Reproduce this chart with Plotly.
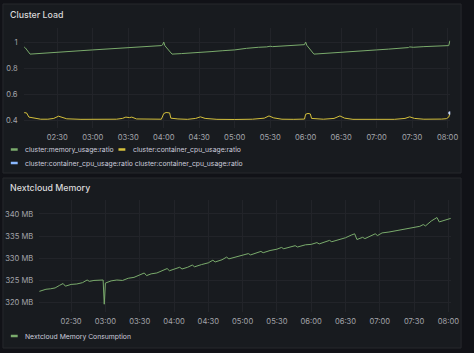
import plotly.graph_objects as go

DAY = "2024-01-01 "

# ---- Cluster Load data ----
mem_times = ["02:02", "02:03", "02:07", "02:15", "02:22", "02:30", "02:40", "02:50", "03:00",
             "03:10", "03:20", "03:30", "03:40", "03:50", "03:58", "03:59", "04:00", "04:01",
             "04:07", "04:15", "04:22", "04:30", "04:40", "04:50", "05:00", "05:10", "05:15",
             "05:20", "05:27", "05:30", "05:32", "05:40", "05:50", "05:59", "06:00", "06:01",
             "06:07", "06:15", "06:22", "06:30", "06:40", "06:50", "07:00", "07:10", "07:20",
             "07:27", "07:28", "07:31", "07:40", "07:50", "08:01", "08:02"]
mem_vals = [0.962, 0.955, 0.908, 0.912, 0.915, 0.922, 0.928, 0.934, 0.940,
            0.945, 0.951, 0.957, 0.962, 0.968, 0.973, 0.978, 1.000, 0.972,
            0.908, 0.912, 0.915, 0.920, 0.927, 0.934, 0.940, 0.952, 0.958,
            0.960, 0.963, 0.968, 0.965, 0.970, 0.975, 0.980, 1.000, 0.975,
            0.908, 0.912, 0.916, 0.925, 0.930, 0.935, 0.940, 0.946, 0.952,
            0.958, 0.963, 0.960, 0.965, 0.970, 0.973, 1.010]

cpu_times = ["02:02", "02:04", "02:06", "02:10", "02:16", "02:22", "02:27", "02:31", "02:34",
             "02:38", "02:50", "03:00", "03:10", "03:20", "03:25", "03:28", "03:31", "03:33",
             "03:37", "03:50", "03:58", "04:00", "04:02", "04:05", "04:06", "04:12", "04:20",
             "04:27", "04:31", "04:35", "04:45", "05:00", "05:15", "05:25", "05:29", "05:33",
             "05:40", "05:50", "05:59", "06:00", "06:02", "06:04", "06:05", "06:15", "06:24",
             "06:29", "06:33", "06:40", "07:00", "07:15", "07:24", "07:28", "07:32", "07:40",
             "07:55", "07:59", "08:01", "08:02"]
cpu_vals = [0.462, 0.460, 0.428, 0.420, 0.412, 0.412, 0.418, 0.435, 0.428,
            0.415, 0.411, 0.410, 0.411, 0.412, 0.418, 0.428, 0.424, 0.428,
            0.414, 0.411, 0.412, 0.455, 0.463, 0.460, 0.420, 0.414, 0.411,
            0.418, 0.430, 0.418, 0.411, 0.410, 0.412, 0.420, 0.437, 0.422,
            0.412, 0.411, 0.413, 0.450, 0.456, 0.452, 0.418, 0.412, 0.418,
            0.437, 0.420, 0.411, 0.410, 0.411, 0.418, 0.430, 0.418, 0.412,
            0.413, 0.416, 0.428, 0.455]

cpu2_times = ["08:02"]
cpu2_vals = [0.460]

# ---- Nextcloud Memory data (MB) ----
nc_times = ["02:02", "02:08", "02:12", "02:16", "02:20", "02:23", "02:25", "02:30", "02:35",
            "02:40", "02:44", "02:46", "02:50", "02:55", "02:58", "02:59", "03:00", "03:05",
            "03:10", "03:15", "03:20", "03:25", "03:30", "03:34", "03:36", "03:40", "03:45",
            "03:50", "03:54", "03:56", "04:00", "04:05", "04:07", "04:12", "04:16", "04:18",
            "04:24", "04:30", "04:34", "04:36", "04:42", "04:46", "04:48", "04:55", "05:00",
            "05:05", "05:07", "05:12", "05:16", "05:18", "05:24", "05:30", "05:34", "05:36",
            "05:42", "05:46", "05:48", "05:55", "06:00", "06:05", "06:07", "06:12", "06:16",
            "06:18", "06:24", "06:30", "06:35", "06:38", "06:40", "06:45", "06:47", "06:52",
            "06:56", "06:58", "07:02", "07:08", "07:14", "07:20", "07:25", "07:30", "07:35",
            "07:38", "07:40", "07:45", "07:50", "07:52", "07:55", "08:00", "08:02"]
nc_vals = [322.4, 322.9, 323.0, 323.2, 323.8, 324.2, 323.6, 324.0, 324.1,
           324.4, 325.0, 324.7, 324.9, 324.9, 325.0, 319.5, 324.3, 324.8,
           325.0, 324.9, 325.4, 325.6, 326.1, 326.6, 326.0, 326.4, 326.6,
           327.1, 327.6, 327.1, 327.4, 327.9, 327.5, 327.9, 328.4, 328.0,
           328.5, 328.9, 329.5, 329.1, 329.6, 330.2, 329.8, 330.3, 330.6,
           331.0, 330.7, 331.1, 331.5, 331.2, 331.7, 332.0, 332.4, 332.1,
           332.5, 332.8, 332.5, 333.0, 333.1, 333.5, 333.2, 333.6, 334.0,
           333.7, 334.2, 334.6, 335.2, 335.5, 334.2, 334.7, 334.4, 335.0,
           335.5, 335.1, 335.7, 335.9, 336.2, 336.5, 336.8, 337.1, 337.2,
           337.6, 337.3, 338.4, 339.2, 338.2, 338.4, 338.7, 339.0]

nc_tickvals = [320, 325, 330, 335, 340]
nc_ticktext = ["320 MB", "325 MB", "330 MB", "335 MB", "340 MB"]
load_tickvals = [0.4, 0.6, 0.8, 1.0]
load_ticktext = ["0.4", "0.6", "0.8", "1"]

W, H = 474, 353
GREEN = "#7aab6c"
YELLOW = "#d4c03c"
BLUE = "#c4d6ff"
BG = "#111217"
PANEL = "#181b1f"
BORDER = "#26282d"
GRID = "#222429"
TICK = "#a3a4aa"
TEXT = "#ccccdc"
FONT = "Inter"


def ts(lst):
    return [DAY + t for t in lst]


def px(x):
    return x / W


def py(y):
    return 1 - y / H


fig = go.Figure()
fig.add_trace(go.Scatter(x=ts(mem_times), y=mem_vals, mode="lines", name="cluster:memory_usage:ratio",
                         line=dict(color=GREEN, width=1), xaxis="x", yaxis="y"))
fig.add_trace(go.Scatter(x=ts(cpu_times), y=cpu_vals, mode="lines", name="cluster:container_cpu_usage:ratio",
                         line=dict(color=YELLOW, width=1), xaxis="x", yaxis="y"))
fig.add_trace(go.Scatter(x=ts(cpu2_times), y=cpu2_vals, mode="markers",
                         name="cluster:container_cpu_usage:ratio cluster:container_cpu_usage:ratio",
                         marker=dict(color=BLUE, size=3.5), xaxis="x", yaxis="y"))
fig.add_trace(go.Scatter(x=ts(nc_times), y=nc_vals, mode="lines", name="Nextcloud Memory Consumption",
                         line=dict(color=GREEN, width=1), xaxis="x2", yaxis="y2"))

shapes = []
# panels
for (x0, y0, x1, y1) in [(3, 4, 469, 173), (3, 178, 469, 348)]:
    shapes.append(dict(type="rect", xref="paper", yref="paper", x0=px(x0), x1=px(x1), y0=py(y0), y1=py(y1),
                       fillcolor=PANEL, line=dict(color=BORDER, width=1), layer="below"))

# legend swatches
legend_items = [
    (11, 149.5, GREEN, 23.5, "cluster:memory_usage:ratio"),
    (120.5, 149.5, YELLOW, 133, "cluster:container_cpu_usage:ratio"),
    (11, 163, "#8ab8ff", 23.5, "cluster:container_cpu_usage:ratio cluster:container_cpu_usage:ratio"),
    (11, 336, GREEN, 23.5, "Nextcloud Memory Consumption"),
]
annotations = []
for sx, sy, col, tx, label in legend_items:
    shapes.append(dict(type="line", xref="paper", yref="paper", x0=px(sx), x1=px(sx + 7), y0=py(sy), y1=py(sy),
                       line=dict(color=col, width=2.5)))
    annotations.append(dict(xref="paper", yref="paper", x=px(tx), y=py(sy), xanchor="left", yanchor="middle",
                            text=label, showarrow=False, font=dict(family=FONT, size=6.8, color=TEXT)))

for tx, ty, label in [(8, 14.5, "Cluster Load"), (8, 187.5, "Nextcloud Memory")]:
    annotations.append(dict(xref="paper", yref="paper", x=px(tx), y=py(ty), xanchor="left", yanchor="middle",
                            text=label, showarrow=False,
                            font=dict(family=FONT, size=8.8, color="#d8d9da", weight=500)))

common_x = dict(type="date", tickformat="%H:%M", dtick=1800000, tick0=DAY + "02:30",
                showgrid=True, gridcolor=GRID, gridwidth=1, zeroline=False, showline=False,
                ticks="", tickfont=dict(family=FONT, size=7.6, color=TICK), ticklabelstandoff=3)
common_y = dict(showgrid=True, gridcolor=GRID, gridwidth=1, zeroline=False, showline=False,
                ticks="", tickfont=dict(family=FONT, size=7.6, color=TICK), ticklabelstandoff=5)

fig.update_layout(
    width=W, height=H, margin=dict(l=0, r=0, t=0, b=0),
    paper_bgcolor=BG, plot_bgcolor="rgba(0,0,0,0)",
    showlegend=False,
    shapes=shapes, annotations=annotations,
    xaxis=dict(common_x, domain=[px(24), px(458)], anchor="y",
               range=[DAY + "02:01:30", DAY + "08:02:18"]),
    yaxis=dict(common_y, domain=[py(128), py(28)], anchor="x", range=[0.345, 1.107],
               tickvals=load_tickvals, ticktext=load_ticktext),
    xaxis2=dict(common_x, domain=[px(40), px(459)], anchor="y2",
                range=[DAY + "02:02:12", DAY + "08:02:30"]),
    yaxis2=dict(common_y, domain=[py(312), py(200)], anchor="x2", range=[317.73, 343.18],
                tickvals=nc_tickvals, ticktext=nc_ticktext),
)

fig.write_html("out.html")
